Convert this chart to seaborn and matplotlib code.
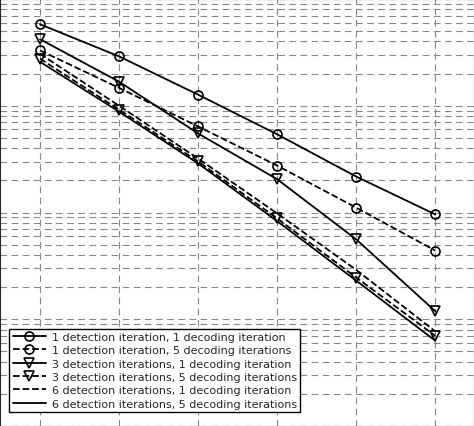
import matplotlib
matplotlib.use("Agg")
import matplotlib.pyplot as plt
import seaborn as sns
import pandas as pd

sns.set_style("white")
plt.rcParams['font.family'] = ['DejaVu Sans']

x = [0, 1, 2, 3, 4, 5]
labels = ["1 detection iteration, 1 decoding iteration",
          "1 detection iteration, 5 decoding iterations",
          "3 detection iterations, 1 decoding iteration",
          "3 detection iterations, 5 decoding iterations",
          "6 detection iterations, 1 decoding iteration",
          "6 detection iterations, 5 decoding iterations"]
s1 = [0.58, 0.29, 0.127, 0.054, 0.0217, 0.0096]
s2 = [0.33, 0.147, 0.064, 0.0275, 0.0111, 0.0044]
s3 = [0.42, 0.168, 0.055, 0.0205, 0.0056, 0.00119]
s4 = [0.276, 0.092, 0.0301, 0.0088, 0.00246, 0.00070]
s5 = [0.306, 0.100, 0.032, 0.0098, 0.0029, 0.00077]
s6 = [0.258, 0.088, 0.0288, 0.0083, 0.0023, 0.00063]
series = [s1, s2, s3, s4, s5, s6]
styles = [("-", "o"), ("--", "o"), ("-", "v"), ("--", "v"), ("--", None), ("-", None)]

fig = plt.figure(figsize=(4.74, 4.27), dpi=100)
ax = fig.add_axes([0, 0, 1, 1])
for lab, s, (ls, mk) in zip(labels, series, styles):
    df = pd.DataFrame({"x": x, "y": s})
    sns.lineplot(data=df, x="x", y="y", ax=ax, color="black", linestyle=ls,
                 marker=mk, markersize=6.5, markerfacecolor="none",
                 markeredgecolor="black", markeredgewidth=1.2, linewidth=1.3, label=lab)
ax.set_yscale("log")
ax.set_ylim(1e-4, 1)
ax.set_xlim(-0.506, 5.49)
ax.set_xticks(x)
ax.grid(True, which="both", axis="y", linestyle=(0, (6, 4)), color="#888888", linewidth=0.8)
ax.grid(True, which="major", axis="x", linestyle=(0, (6, 4)), color="#888888", linewidth=0.8)
ax.tick_params(labelbottom=False, labelleft=False, length=0, which="both")
ax.set_xlabel(""); ax.set_ylabel("")
leg = ax.legend(loc="lower left", bbox_to_anchor=(0.008, 0.02), fontsize=8.0,
                frameon=True, fancybox=False, edgecolor="black", framealpha=1,
                handlelength=3.0, handletextpad=0.5, borderpad=0.3, labelspacing=0.3)
leg.get_frame().set_linewidth(1.0)
fig.savefig("out.png", dpi=100)
